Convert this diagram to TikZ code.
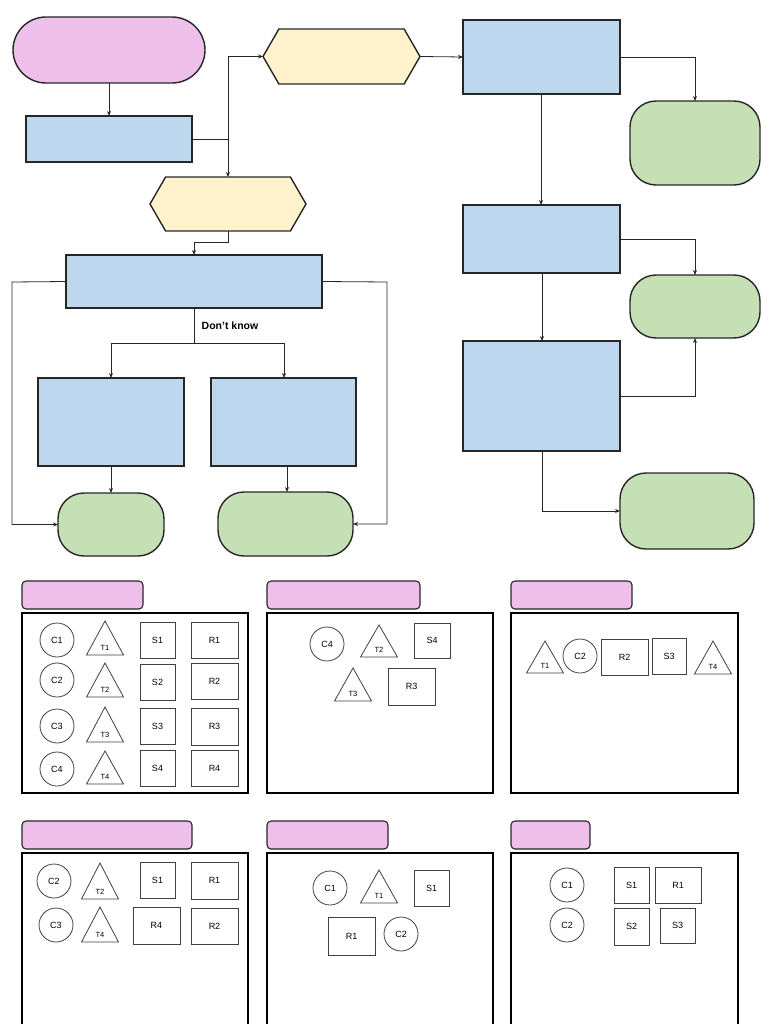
\documentclass[tikz,border=0pt]{standalone}
\usepackage{fontspec}
\setmainfont{Liberation Sans}
\usetikzlibrary{shapes.symbols,arrows.meta}
\definecolor{pk}{HTML}{EDBFEA}
\definecolor{bl}{HTML}{BDD7EE}
\definecolor{yl}{HTML}{FFF2CC}
\definecolor{gr}{HTML}{C5E0B4}
\newcommand\Bx[6]{\node[#1,minimum width={(#4-#2)*1pt},minimum height={(#5-#3)*1pt}] (#6) at ({(#2+#4)/2},{(#3+#5)/2}) {};}
\newcommand\Sq[6]{\node[it,minimum width={(#3-#2)*1pt},minimum height={(#5-#4)*1pt}] (#1) at ({(#2+#3)/2},{(#4+#5)/2}) {#6};}
\newcommand\Ci[4]{\node[it,circle,minimum size=34pt] (#1) at (#2,#3) {#4};}
\newcommand\Tr[5]{\draw[itl] (#2-18.5,#4) -- (#2,#3) -- (#2+18.5,#4) -- cycle; \node[font=\fontsize{7.5}{8}\selectfont,inner sep=0] (#1) at (#2,#4-7) {#5};}
\begin{document}
\begin{tikzpicture}[x=1pt,y=-1pt,
  box/.style={draw=black!85,line width=1.4pt,inner sep=0,outer sep=0},
  pill/.style={box,fill=pk,rounded corners=33pt},
  tag/.style={box,fill=pk,rounded corners=4pt,line width=1.1pt},
  bb/.style={box,fill=bl},
  gg/.style={box,fill=gr,rounded corners=26pt},
  hx/.style={box,fill=yl,signal,signal to=west and east,signal pointer angle=120},
  pan/.style={draw=black,line width=1.2pt,inner sep=0,outer sep=0},
  it/.style={draw=black!75,line width=0.8pt,inner sep=0,font=\fontsize{9}{10}\selectfont},
  itl/.style={draw=black!75,line width=0.8pt},
  ln/.style={draw=black!85,line width=0.8pt},
  ar/.style={ln,-{Stealth[length=5pt,width=4pt]}}]
\useasboundingbox (0,0) rectangle (768,1024);
\Bx{pill}{13}{17}{205}{83}{st}
\Bx{bb}{26}{116}{192}{162}{r1}
\Bx{hx}{263}{29}{420}{84}{h1}
\Bx{bb}{463}{20}{620}{94}{r2}
\Bx{gg}{630}{101}{760}{185}{g1}
\Bx{bb}{463}{205}{620}{273}{r3}
\Bx{gg}{630}{275}{760}{338}{g2}
\Bx{bb}{463}{341}{620}{451}{r4}
\Bx{gg}{620}{473}{754}{549}{g3}
\Bx{hx}{150}{177}{306}{231}{h2}
\Bx{bb}{66}{255}{322}{308}{r5}
\Bx{bb}{38}{378}{184}{466}{r6}
\Bx{bb}{211}{378}{356}{466}{r7}
\Bx{gg}{58}{493}{164}{556}{g4}
\Bx{gg}{218}{492}{353}{556}{g5}
\coordinate (j1) at (228,139);
\coordinate (k) at (194,343);
\draw[ar] (st.south) -- (r1.north);
\draw[ln] (r1.east) -- (j1);
\draw[ar] (j1) |- (h1.west);
\draw[ar] (j1) -- (h2.north);
\draw[ar] (h1.east) -- (r2.west);
\draw[ar] (r2.east) -| (g1.north);
\draw[ar] (r2.south -| 541,0) -- (r3.north -| 541,0);
\draw[ar] (r3.east) -| (g2.north);
\draw[ar] (r3.south -| 542,0) -- (r4.north -| 542,0);
\draw[ar] (r4.east) -| (g2.south);
\draw[ar] (r4.south -| 542,0) |- (g3.west);
\draw[ar] (h2.south) -- (228,242) -| (r5.north);
\draw[ln] (r5.south) -- (k) node[midway,right=4pt,font=\bfseries\fontsize{10.5}{12}\selectfont]{Don’t know};
\draw[ar] (k) -| (r6.north);
\draw[ar] (k) -| (r7.north -| 284,0);
\draw[ar] (r6.south) -- (g4.north);
\draw[ar] (r7.south -| 287,0) -- (g5.north -| 287,0);
\draw[ar] (r5.west) -- (12,282) |- (g4.west);
\draw[ar] (r5.east) -- (387,282) |- (g5.east);
% panels
\Bx{tag}{22}{581}{143}{609}{l1}
\Bx{tag}{267}{581}{420}{609}{l2}
\Bx{tag}{511}{581}{632}{609}{l3}
\Bx{pan}{22}{613}{248}{793}{p1}
\Bx{pan}{267}{613}{493}{793}{p2}
\Bx{pan}{511}{613}{738}{793}{p3}
\Bx{tag}{22}{821}{192}{849}{l4}
\Bx{tag}{267}{821}{388}{849}{l5}
\Bx{tag}{511}{821}{590}{849}{l6}
\draw[pan] (22,1026) |- (248,853) -- (248,1026);
\draw[pan] (267,1026) |- (493,853) -- (493,1026);
\draw[pan] (511,1026) |- (738,853) -- (738,1026);
% panel 1
\Ci{a1}{57}{640}{C1} \Tr{at1}{105}{621}{655}{T1} \Sq{as1}{140}{175}{622}{658}{S1} \Sq{ar1}{191}{238}{622}{658}{R1}
\Ci{a2}{57}{680}{C2} \Tr{at2}{105}{663}{697}{T2} \Sq{as2}{140}{175}{664}{700}{S2} \Sq{ar2}{191}{238}{663}{699}{R2}
\Ci{a3}{57}{726}{C3} \Tr{at3}{105}{707}{742}{T3} \Sq{as3}{140}{175}{708}{744}{S3} \Sq{ar3}{191}{238}{708}{745}{R3}
\Ci{a4}{57}{769}{C4} \Tr{at4}{105}{751}{784}{T4} \Sq{as4}{140}{175}{750}{786}{S4} \Sq{ar4}{191}{238}{750}{786}{R4}
% panel 2
\Ci{b1}{327}{644}{C4} \Tr{bt2}{379}{625}{657}{T2} \Sq{bs4}{414}{450}{623}{658}{S4}
\Tr{bt3}{353}{668}{701}{T3} \Sq{br3}{388}{435}{668}{705}{R3}
% panel 3
\Tr{ct1}{545}{641}{673}{T1} \Ci{c2}{580}{656}{C2} \Sq{cr2}{601}{648}{639}{675}{R2} \Sq{cs3}{652}{686}{638}{674}{S3} \Tr{ct4}{713}{641}{674}{T4}
% panel 4
\Ci{d2}{54}{881}{C2} \Tr{dt2}{100}{863}{899}{T2} \Sq{ds1}{140}{175}{862}{898}{S1} \Sq{dr1}{191}{238}{862}{899}{R1}
\Ci{d3}{56}{925}{C3} \Tr{dt4}{100}{907}{942}{T4} \Sq{dr4}{133}{180}{907}{944}{R4} \Sq{dr2}{191}{238}{908}{944}{R2}
% panel 5
\Ci{e1}{330}{888}{C1} \Tr{et1}{379}{870}{903}{T1} \Sq{es1}{414}{449}{870}{906}{S1}
\Sq{er1}{328}{375}{917}{955}{R1} \Ci{e2}{401}{934}{C2}
% panel 6
\Ci{f1}{567}{885}{C1} \Sq{fs1}{614}{649}{867}{903}{S1} \Sq{fr1}{655}{701}{867}{903}{R1}
\Ci{f2}{567}{925}{C2} \Sq{fs2}{614}{649}{908}{945}{S2} \Sq{fs3}{660}{695}{908}{943}{S3}
\end{tikzpicture}
\end{document}
